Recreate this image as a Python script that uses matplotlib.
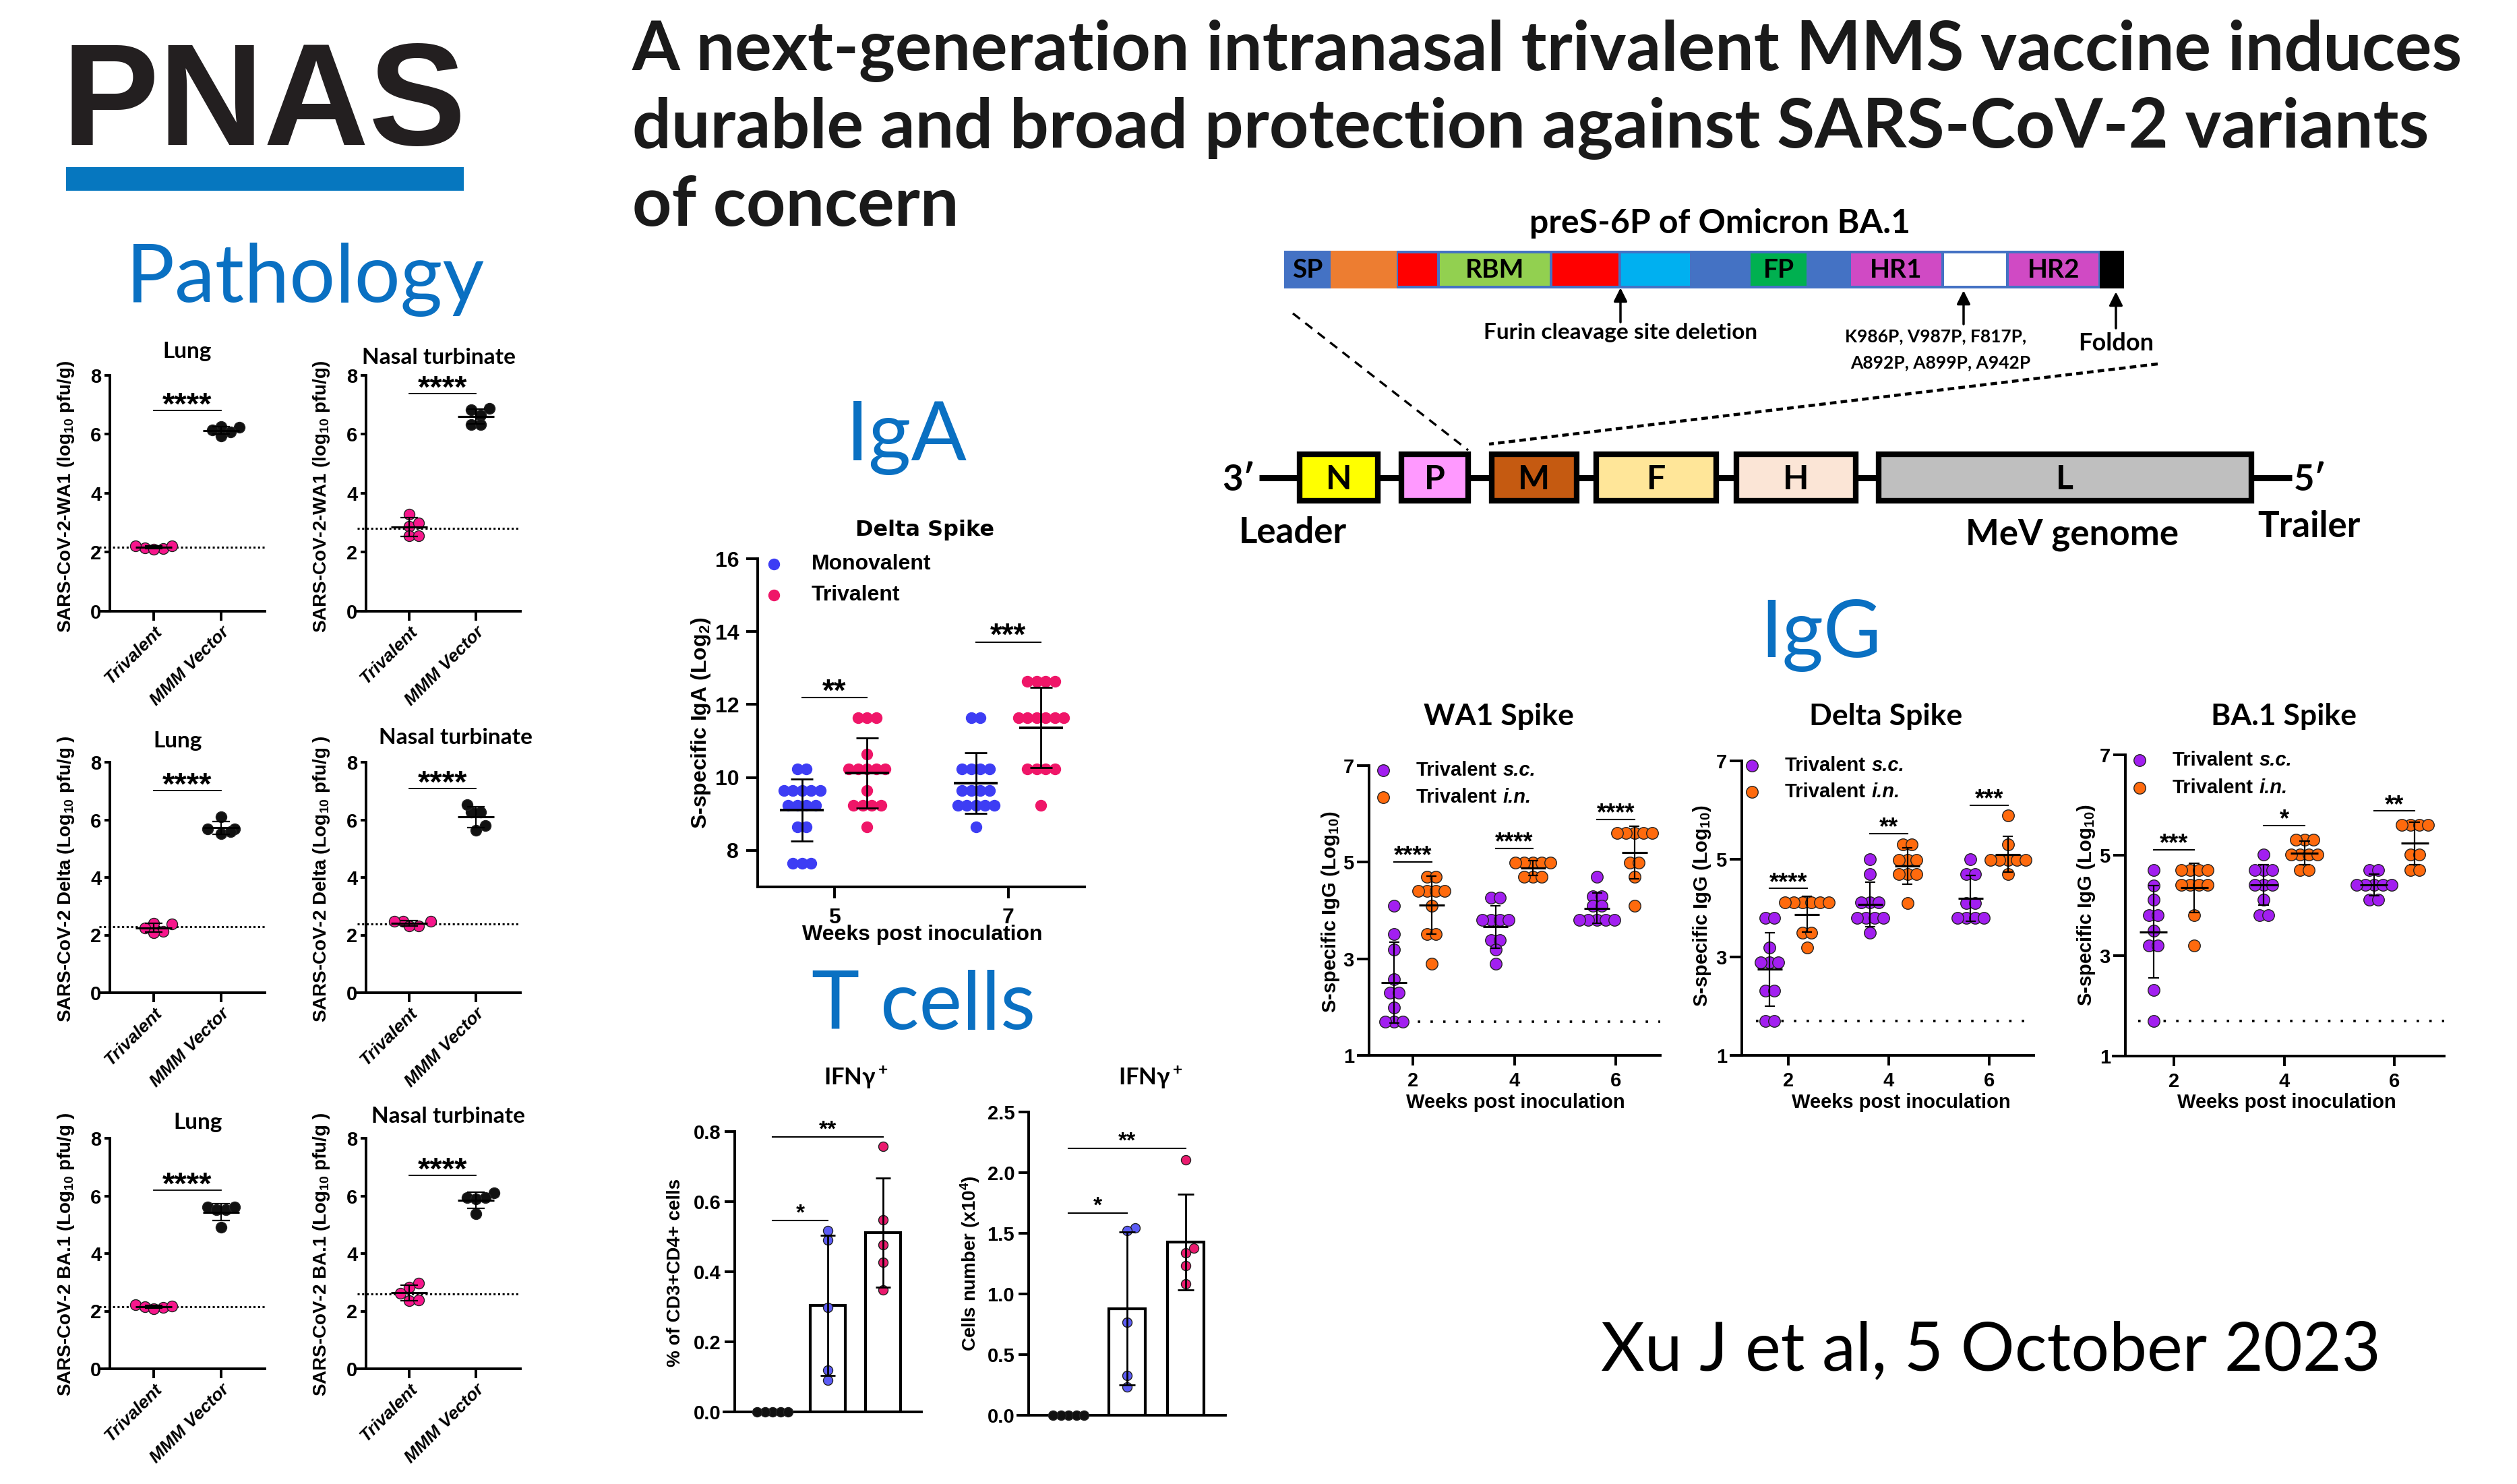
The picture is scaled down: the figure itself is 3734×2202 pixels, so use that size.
import numpy as np
import matplotlib.pyplot as plt
from matplotlib.patches import Rectangle

plt.rcParams.update({
    "font.family": ["Liberation Sans", "DejaVu Sans"],
    "font.weight": "bold",
    "axes.linewidth": 2.8,
    "xtick.major.width": 2.8,
    "ytick.major.width": 2.8,
    "mathtext.fontset": "custom",
    "mathtext.rm": "Liberation Sans:bold",
    "mathtext.it": "Liberation Sans:italic:bold",
    "mathtext.bf": "Liberation Sans:bold",
})

W, H = 3734, 2202
HEAD_BLUE = "#0a70c2"
PINK = "#f7168c"
IGA_BLUE, IGA_PINK = "#3d3df4", "#ef1668"
TC_BLUE, TC_PINK = "#5c5cf6", "#ea1a6e"
PURPLE, ORANGE = "#a21ff0", "#ff6a0d"
LATO = ["Lato", "DejaVu Sans"]

# ---------------- data ----------------
# pathology, log10 pfu/g, 5 hamsters per group
WA1_LUNG_TRI = [2.13, 2.21, 2.15, 2.21, 2.11]
WA1_LUNG_MMM = [6.23, 5.95, 6.27, 6.07, 6.15]
WA1_NASAL_TRI = [3.29, 2.88, 3.00, 2.55, 2.57]
WA1_NASAL_MMM = [6.83, 6.87, 6.64, 6.34, 6.34]
DELTA_LUNG_TRI = [2.14, 2.42, 2.25, 2.38, 2.08]
DELTA_LUNG_MMM = [5.52, 5.69, 6.11, 5.69, 5.60]
DELTA_NASAL_TRI = [2.32, 2.47, 2.47, 2.47, 2.31]
DELTA_NASAL_MMM = [6.26, 6.52, 6.26, 5.64, 5.80]
BA1_LUNG_TRI = [2.13, 2.22, 2.15, 2.17, 2.08]
BA1_LUNG_MMM = [5.61, 5.52, 5.52, 5.61, 4.91]
BA1_NASAL_TRI = [2.98, 2.63, 2.83, 2.37, 2.39]
BA1_NASAL_MMM = [6.10, 5.95, 5.95, 5.90, 5.37]
PATH_GROUPS = ["Trivalent", "MMM Vector"]
PATH_LOD = [2.17, 2.80, 2.29, 2.39, 2.15, 2.59]
PATH_SIG_Y = [6.80, 7.39, 7.02, 7.09, 6.20, 6.71]

# IgA, Delta spike, log2 titre
IGA_WEEKS = [5, 7]
IGA_MONO_W5 = [10.23] * 2 + [9.64] * 5 + [9.23] * 4 + [8.64] * 2 + [7.64] * 3
IGA_TRI_W5 = [11.64] * 3 + [10.64] + [10.23] * 5 + [9.64] + [9.23] * 4 + [8.64]
IGA_MONO_W7 = [11.64] * 2 + [10.23] * 4 + [9.64] * 4 + [9.23] * 5 + [8.64]
IGA_TRI_W7 = [12.64] * 4 + [11.64] * 6 + [10.23] * 4 + [9.23]
IGA_SIG = ["**", "***"]
IGA_SIG_Y = [12.19, 13.71]

# T cells, IFNg+ (control, monovalent, trivalent)
TC_PCT = [[0.0] * 5, [0.518, 0.49, 0.299, 0.12, 0.09], [0.758, 0.548, 0.476, 0.427, 0.349]]
TC_NUM = [[0.0] * 5, [1.545, 1.524, 0.767, 0.326, 0.233], [2.107, 1.377, 1.337, 1.235, 1.083]]
TC_PCT_SIG_Y = [0.546, 0.784]
TC_NUM_SIG_Y = [1.666, 2.198]

# IgG, log10 titre, weeks 2/4/6
IGG_WEEKS = [2, 4, 6]
WA1_SC = [[4.10, 3.51, 3.19, 2.58, 2.30, 2.30, 1.99, 1.70, 1.70, 1.70],
          [4.27, 4.27, 3.80, 3.80, 3.80, 3.80, 3.38, 3.38, 3.19, 2.90],
          [4.70, 4.29, 4.29, 4.10, 4.10, 3.80, 3.80, 3.80, 3.80, 3.80]]
WA1_IN = [[4.70, 4.70, 4.41, 4.41, 4.41, 4.41, 4.10, 3.51, 3.51, 2.90],
          [4.99] * 5 + [4.70] * 3,
          [5.61] * 5 + [4.99] * 2 + [4.70, 4.10]]
DELTA_SC = [[3.80, 3.80, 3.20, 2.90, 2.90, 2.90, 2.32, 2.32, 1.70, 1.70],
            [5.00, 4.70, 4.11, 4.11, 4.11, 3.80, 3.80, 3.80, 3.80, 3.50],
            [4.99, 4.69, 4.69, 4.10, 4.10, 3.80, 3.80, 3.80, 3.80]]
DELTA_IN = [[4.11] * 6 + [3.50] * 2 + [3.20],
            [5.30] * 2 + [4.98] * 3 + [4.69] * 3 + [4.10],
            [5.89, 5.30] + [4.98] * 5 + [4.69]]
BA1_SC = [[4.71, 4.40, 4.11, 3.81, 3.81, 3.50, 3.20, 3.20, 2.31, 1.70],
          [5.01, 4.71, 4.71, 4.71, 4.41, 4.41, 4.41, 4.11, 3.81, 3.81],
          [4.71] * 2 + [4.41] * 5 + [4.11] * 2]
BA1_IN = [[4.71] * 4 + [4.41] * 4 + [3.81, 3.20],
          [5.31] * 3 + [5.01] * 4 + [4.71] * 2,
          [5.61] * 4 + [5.01] * 2 + [4.71] * 2]
IGG_LOD = 1.70
WA1_SIG = (["****", "****", "****"], [5.01, 5.28, 5.88])
DELTA_SIG = (["****", "**", "***"], [4.40, 5.52, 6.09])
BA1_SIG = (["***", "*", "**"], [5.11, 5.59, 5.88])

# construct diagram
SPIKE_EDGES = [1905, 1974, 2072, 2134, 2301, 2403, 2509, 2595, 2682, 2744, 2882, 2978, 3115, 3151]
SPIKE_LABELS = ["SP", "", "", "RBM", "", "", "", "FP", "", "HR1", "", "HR2", ""]
SPIKE_COLORS = ["#4472c4", "#ed7d31", "#ff0000", "#92d050", "#ff0000", "#00b0f0", "#4472c4",
                "#00b050", "#4472c4", "#d04ac4", "#ffffff", "#d04ac4", "#000000"]
GENES = ["N", "P", "M", "F", "H", "L"]
GENE_SPANS = [(1924, 2048), (2075, 2182), (2209, 2343), (2364, 2550), (2572, 2757), (2783, 3344)]
GENE_COLORS = ["#ffff00", "#ff99ff", "#c55a11", "#ffe699", "#fbe5d6", "#bfbfbf"]

fig = plt.figure(figsize=(W / 100, H / 100), dpi=100)
bg = fig.add_axes([0, 0, 1, 1])
bg.set_xlim(0, W)
bg.set_ylim(H, 0)
bg.axis("off")
R = fig.canvas.get_renderer()


def fit(t, width):
    w = t.get_window_extent(R).width
    t.set_fontsize(t.get_fontsize() * width / w)


def frame(xs, xe, yt, yb, tpx, tval, spine_px, ylim):
    ax = fig.add_axes([xs / W, 1 - yb / H, (xe - xs) / W, (yb - yt) / H])
    ax.patch.set_alpha(0)
    ax.spines[["top", "right"]].set_visible(False)
    ppx = (tpx[1] - tpx[0]) / (tval[1] - tval[0])
    ax.set_xlim(tval[0] - (tpx[0] - xs) / ppx, tval[0] + (xe - tpx[0]) / ppx)
    ax.set_ylim(*ylim)
    ax.spines["left"].set_position(("data", tval[0] - (tpx[0] - spine_px) / ppx))
    ppy = (yb - yt) / (ylim[1] - ylim[0])
    return ax, ppx, ppy


def swarm(vals, ppy, step):
    vals = np.asarray(vals, float)
    ys = vals * ppy
    offs = np.zeros(len(vals))
    placed = []
    cands = [0.0] + [s * k * step / 2 for k in range(1, 40) for s in (1, -1)]
    for i in np.argsort(vals, kind="stable"):
        for c in cands:
            if all((c - px) ** 2 + (ys[i] - py) ** 2 >= step ** 2 * 0.999 for px, py in placed):
                break
        placed.append((c, ys[i]))
        offs[i] = c
    for v in np.unique(vals):
        m = vals == v
        if m.sum() > 1:
            offs[m] -= offs[m].mean()
    return offs


def dots(ax, x, vals, ppx, ppy, color, diam, step, ec="#222222"):
    offs = swarm(vals, ppy, step) / ppx
    ax.scatter(x + offs, vals, s=(diam / 1.389) ** 2, color=color, edgecolors=ec,
               linewidths=1.0, zorder=3, clip_on=False)


def mean_sd(ax, x, vals, half_mean, half_cap, lw, mean_line=True):
    m, s = np.mean(vals), np.std(vals, ddof=1)
    kw = dict(color="k", zorder=5, solid_capstyle="butt", clip_on=False)
    if mean_line:
        ax.plot([x - half_mean, x + half_mean], [m, m], lw=lw * 1.4, **kw)
    ax.plot([x, x], [m - s, m + s], lw=lw, **kw)
    for y in (m - s, m + s):
        ax.plot([x - half_cap, x + half_cap], [y, y], lw=lw, **kw)


def sig(ax, x0, x1, y, label, fs, dy=-2, lw=1.5):
    ax.plot([x0, x1], [y, y], color="k", lw=lw, clip_on=False)
    ax.annotate(label, ((x0 + x1) / 2, y), xytext=(0, dy), textcoords="offset points",
                ha="center", va="baseline", fontsize=fs, fontweight="bold")


# ---------------- header ----------------
t = bg.text(92, 215, "PNAS", fontsize=100, color="#231f20", fontweight="bold")
fit(t, 600)
bg.add_patch(Rectangle((98, 248), 590, 35, color="#0677bf", lw=0))
t = bg.text(187, 448, "Pathology", family=LATO, fontweight="normal", fontsize=80, color=HEAD_BLUE)
fit(t, 531)
TITLE = ["A next-generation intranasal trivalent MMS vaccine induces",
         "durable and broad protection against SARS-CoV-2 variants",
         "of concern"]
lines = [bg.text(938, y, s, family=LATO, fontweight="bold", fontsize=60, color="#1a1a1a")
         for s, y in zip(TITLE, [104, 219, 335])]
fit(lines[0], 2715)
for t in lines[1:]:
    t.set_fontsize(lines[0].get_fontsize())
t = bg.text(1255, 683, "IgA", family=LATO, fontweight="normal", fontsize=80, color=HEAD_BLUE)
fit(t, 180)
t = bg.text(1204, 1527, "T cells", family=LATO, fontweight="normal", fontsize=80, color=HEAD_BLUE)
fit(t, 332)
t = bg.text(2611, 975, "IgG", family=LATO, fontweight="normal", fontsize=80, color=HEAD_BLUE)
fit(t, 180)
t = bg.text(2375, 2033, "Xu J et al, 5 October 2023", family=LATO, fontweight="normal",
            fontsize=60, color="#000000")
fit(t, 1158)

# ---------------- pathology ----------------
path_data = [(WA1_LUNG_TRI, WA1_LUNG_MMM), (WA1_NASAL_TRI, WA1_NASAL_MMM),
             (DELTA_LUNG_TRI, DELTA_LUNG_MMM), (DELTA_NASAL_TRI, DELTA_NASAL_MMM),
             (BA1_LUNG_TRI, BA1_LUNG_MMM), (BA1_NASAL_TRI, BA1_NASAL_MMM)]
path_cols = [(147, 393, (228, 328), 163), (530, 772, (607, 706), 543)]
path_rows = [(557, 907), (1131, 1473), (1689, 2031)]
path_titles = [[(278, 521), (651, 530)], [(264, 1100), (676, 1095)], [(294, 1666), (665, 1657)]]
path_ylab = ["SARS-CoV-2-WA1 (log$_{10}$ pfu/g)", "SARS-CoV-2 Delta (Log$_{10}$ pfu/g )",
             "SARS-CoV-2 BA.1 (Log$_{10}$ pfu/g )"]
path_ylab_y = [737, 1304, 1862]
for k, (tri, mmm) in enumerate(path_data):
    r, c = divmod(k, 2)
    xs, xe, tpx, spx = path_cols[c]
    yt, yb = path_rows[r]
    ax, ppx, ppy = frame(xs, xe, yt, yb, tpx, (1, 2), spx, (0, 8))
    ax.set_yticks([0, 2, 4, 6, 8])
    ax.set_xticks([1, 2], PATH_GROUPS, style="italic")
    ax.tick_params(axis="y", length=6, pad=3, labelsize=21)
    ax.tick_params(axis="x", length=10, pad=3, labelsize=19)
    plt.setp(ax.get_xticklabels(), rotation=45, ha="right", rotation_mode="anchor")
    ax.plot(ax.get_xlim(), [PATH_LOD[k]] * 2, color="k", lw=2.2, ls=(0, (1, 1.2)), zorder=2)
    dots(ax, 1, tri, ppx, ppy, PINK, 16, 13.5)
    dots(ax, 2, mmm, ppx, ppy, "#111111", 16, 13.5)
    for x, v in ((1, tri), (2, mmm)):
        mean_sd(ax, x, v, 0.27, 0.13, 1.6)
    sig(ax, 1, 2, PATH_SIG_Y[k], "****", 34, dy=-4, lw=1.3)
    tx, ty = path_titles[r][c]
    bg.text(tx, ty, "Lung" if c == 0 else "Nasal turbinate", family=LATO, fontsize=24,
            ha="center", va="center")
    bg.text(98 if c == 0 else 477, path_ylab_y[r], path_ylab[r], rotation=90,
            ha="center", va="center", fontsize=20)

# ---------------- IgA ----------------
ax, ppx, ppy = frame(1124, 1609, 829, 1316, (1238, 1496), (5, 7), 1124, (7, 16))
ax.set_yticks([8, 10, 12, 14, 16])
ax.set_xticks(IGA_WEEKS)
ax.tick_params(axis="y", length=12, pad=8, labelsize=23)
ax.tick_params(axis="x", length=12, pad=10, labelsize=23)
for i, (mono, tri) in enumerate([(IGA_MONO_W5, IGA_TRI_W5), (IGA_MONO_W7, IGA_TRI_W7)]):
    w = IGA_WEEKS[i]
    dots(ax, w - 0.375, mono, ppx, ppy, IGA_BLUE, 16, 13.5, ec=IGA_BLUE)
    dots(ax, w + 0.375, tri, ppx, ppy, IGA_PINK, 16, 13.5, ec=IGA_PINK)
    mean_sd(ax, w - 0.375, mono, 0.25, 0.13, 2.0)
    mean_sd(ax, w + 0.375, tri, 0.25, 0.13, 2.0)
    sig(ax, w - 0.375, w + 0.375, IGA_SIG_Y[i], IGA_SIG[i], 33, dy=-3)
bg.text(1372, 787, "Delta Spike", family="DejaVu Sans", fontsize=23, ha="center", va="center")
for y, lab, col in ((837, "Monovalent", IGA_BLUE), (883, "Trivalent", IGA_PINK)):
    bg.scatter([1148], [y], s=(16 / 1.389) ** 2, color=col)
    bg.text(1204, y, lab, fontsize=23, va="center")
bg.text(1040, 1073, "S-specific IgA (Log$_2$)", rotation=90, ha="center", va="center", fontsize=23)
bg.text(1368, 1387, "Weeks post inoculation", ha="center", va="center", fontsize=23)

# ---------------- T cells ----------------
tc_specs = [(TC_PCT, (1074, 1367, 1679, 2095, (1146, 1228), 1090, (0, 0.8)),
             np.arange(0, 0.81, 0.2), "% of CD3+CD4+ cells", 1002, 1888, 1270, TC_PCT_SIG_Y),
            (TC_NUM, (1510, 1818, 1650, 2100, (1585, 1672), 1526, (0, 2.5)),
             np.arange(0, 2.51, 0.5), "Cells number (x10$^4$)", 1439, 1875, 1707, TC_NUM_SIG_Y)]
for vals, (xs, xe, yt, yb, tpx, spx, ylim), ticks, ylab, lx, ly, tx, sy in tc_specs:
    ax, ppx, ppy = frame(xs, xe, yt, yb, tpx, (0, 1), spx, ylim)
    ax.set_yticks(ticks, [f"{v:.1f}" for v in ticks])
    ax.set_xticks([])
    ax.tick_params(axis="y", length=11, pad=4, labelsize=21)
    for g in (1, 2):
        ax.bar(g, np.mean(vals[g]), width=0.63, color="white", edgecolor="k", lw=3, zorder=2)
    for g, col in enumerate(["#111111", TC_BLUE, TC_PINK]):
        dots(ax, g, vals[g], ppx, ppy, col, 14, 11.5)
        if g:
            mean_sd(ax, g, vals[g], 0, 0.14, 2.0, mean_line=False)
    sig(ax, 0, 1, sy[0], "*", 24, dy=1)
    sig(ax, 0, 2, sy[1], "**", 24, dy=1)
    bg.text(lx, ly, ylab, rotation=90, ha="center", va="center", fontsize=20)
    bg.text(tx, 1598, "IFNγ$^+$", family=LATO, fontsize=25, ha="center", va="center")

# ---------------- IgG ----------------
igg_specs = [("WA1 Spike", WA1_SC, WA1_IN, WA1_SIG, (2015, 2463, 1136, 1566, (2096, 2397), 2031),
              2223, 2052, (1143, 1183), (1974, 1353), 2248),
             ("Delta Spike", DELTA_SC, DELTA_IN, DELTA_SIG,
              (2568, 3017, 1129, 1566, (2653, 2951), 2584), 2798, 2599, (1136, 1175), (2525, 1344), 2820),
             ("BA.1 Spike", BA1_SC, BA1_IN, BA1_SIG, (3135, 3626, 1120, 1567, (3225, 3552), 3153),
              3388, 3174, (1128, 1169), (3095, 1343), 3392)]
for title, sc, inn, (stars, sy), (xs, xe, yt, yb, tpx, spx), tx, lgx, lgy, (ylx, yly), xlx in igg_specs:
    ax, ppx, ppy = frame(xs, xe, yt, yb, tpx, (2, 6), spx, (1, 7))
    ax.set_yticks([1, 3, 5, 7])
    ax.set_xticks(IGG_WEEKS)
    ax.tick_params(axis="y", length=13, pad=3, labelsize=21)
    ax.tick_params(axis="x", length=11, pad=6, labelsize=21)
    ax.plot([1.35, ax.get_xlim()[1]], [IGG_LOD] * 2, color="k", lw=2.6, ls=(0, (1, 4.2)), zorder=2,
            clip_on=False)
    for i, w in enumerate(IGG_WEEKS):
        dots(ax, w - 0.37, sc[i], ppx, ppy, PURPLE, 17.5, 13)
        dots(ax, w + 0.37, inn[i], ppx, ppy, ORANGE, 17.5, 13)
        mean_sd(ax, w - 0.37, sc[i], 0.25, 0.1, 1.6)
        mean_sd(ax, w + 0.37, inn[i], 0.25, 0.1, 1.6)
        sig(ax, w - 0.37, w + 0.37, sy[i], stars[i], 26, dy=-1)
    bg.text(tx, 1063, title, family=LATO, fontsize=32, ha="center", va="center")
    for y, route, col in zip(lgy, ("s.c.", "i.n."), (PURPLE, ORANGE)):
        bg.scatter([lgx], [y], s=(17.5 / 1.389) ** 2, color=col, edgecolors="#222222", linewidths=1)
        t = bg.text(lgx + 49, y, "Trivalent", fontsize=21, va="center")
        bg.annotate(route, xy=(1, 0), xycoords=t, xytext=(6, 0), textcoords="offset points",
                    ha="left", va="bottom", fontsize=21, style="italic")
    bg.text(ylx, yly, "S-specific IgG (Log$_{10}$)", rotation=90, ha="center", va="center", fontsize=21)
    bg.text(xlx, 1636, "Weeks post inoculation", ha="center", va="center", fontsize=21)

# ---------------- construct diagram ----------------
bg.text(2552, 346, "preS-6P of Omicron BA.1", family=LATO, fontsize=36, ha="center")
bg.add_patch(Rectangle((SPIKE_EDGES[0], 372), SPIKE_EDGES[-2] - SPIKE_EDGES[0], 56,
                       color="#4472c4", lw=0, zorder=2))
for x0, x1, lab, col in zip(SPIKE_EDGES[:-1], SPIKE_EDGES[1:], SPIKE_LABELS, SPIKE_COLORS):
    full = col in ("#ed7d31", "#000000")
    y0, h = (372, 56) if full else (376, 48)
    if x0 == SPIKE_EDGES[0]:
        y0, h = 372, 56
    bg.add_patch(Rectangle((x0 + (0 if full else 2), y0), x1 - x0 - (0 if full else 4), h,
                           color=col, lw=0, zorder=3))
    if lab:
        bg.text((x0 + x1) / 2, 401, lab, family=LATO, fontsize=28, ha="center", va="center", zorder=4)
for x, tip, tail in ((2404, 427, 478), (2913, 431, 481), (3139, 433, 487)):
    bg.annotate("", xy=(x, tip), xytext=(x, tail),
                arrowprops=dict(arrowstyle="-|>", color="k", lw=2.5, mutation_scale=30,
                                shrinkA=0, shrinkB=0))
bg.text(2404, 493, "Furin cleavage site deletion", family=LATO, fontsize=24, ha="center", va="center")
bg.text(2872, 499, "K986P, V987P, F817P,", family=LATO, fontsize=19, ha="center", va="center")
bg.text(2879, 538, "A892P, A899P, A942P", family=LATO, fontsize=19, ha="center", va="center")
bg.text(3139, 510, "Foldon", family=LATO, fontsize=26, ha="center", va="center")
bg.plot([1918, 2178], [465, 668], color="k", lw=2.4, ls=(0, (4, 3)))
bg.plot([3201, 2209], [540, 659], color="k", lw=3.2, ls=(0, (2.2, 1.4)))

bg.plot([1868, 3400], [709, 709], color="k", lw=6.5, zorder=1, solid_capstyle="butt")
for lab, (x0, x1), col in zip(GENES, GENE_SPANS, GENE_COLORS):
    bg.add_patch(Rectangle((x0 + 4, 674), x1 - x0 - 8, 69, facecolor=col, edgecolor="k",
                           lw=6, zorder=2))
    bg.text((x0 + x1) / 2, 712, lab, family=LATO, fontsize=36, ha="center", va="center", zorder=3)
bg.text(1838, 712, "3′", family=LATO, fontsize=38, ha="center", va="center")
bg.text(3427, 712, "5′", family=LATO, fontsize=38, ha="center", va="center")
bg.text(1918, 806, "Leader", family=LATO, fontsize=38, ha="center")
bg.text(3425, 797, "Trailer", family=LATO, fontsize=38, ha="center")
bg.text(3074, 808, "MeV genome", family=LATO, fontsize=38, ha="center")

fig.savefig("out.png", dpi=100, facecolor="white")
